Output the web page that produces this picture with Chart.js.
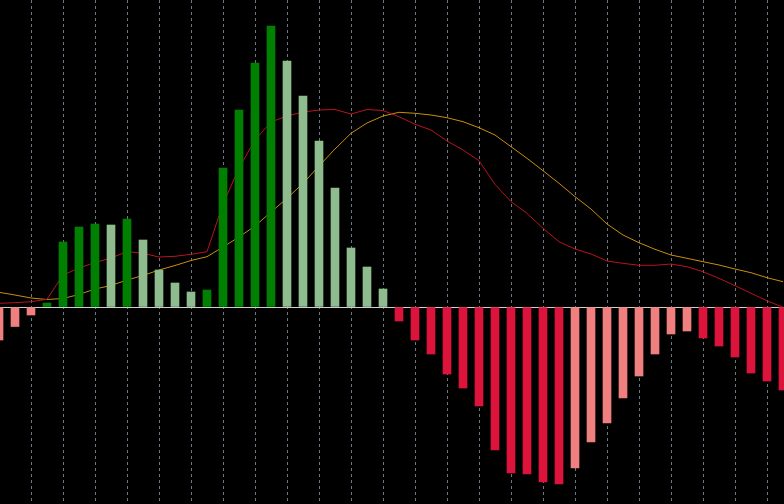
<!DOCTYPE html>
<html>
<head>
<meta charset="utf-8">
<script src="https://cdn.jsdelivr.net/npm/chart.js@4"></script>
<style>
  html, body { margin: 0; padding: 0; background: #000; }
  #wrap { width: 784px; height: 504px; position: relative; }
</style>
</head>
<body>
<div id="wrap"><canvas id="myChart"></canvas></div>
<script>
// bar index (one per period)
var periods = [];
for (var i = 0; i < 50; i++) periods.push(i);

// dashed vertical grid every second period
var gridTicks = [2, 4, 6, 8, 10, 12, 14, 16, 18, 20, 22, 24, 26, 28, 30, 32, 34, 36, 38, 40, 42, 44, 46, 48];

// histogram
var histogram = [-33, -19.5, -8, 4, 65, 80, 83, 82, 88, 67,
  37, 24, 15, 17, 139, 197, 244, 281, 246, 211,
  166, 119, 59, 40, 18, -14, -33, -47, -67, -81,
  -99, -143, -166, -167, -175, -177, -161, -135, -116, -91,
  -69, -47, -27, -24, -31, -39, -50, -66, -74, -83];

// main line (red)
var macdLine = [3.7, 4.3, 5.3, 7.7, 32, 39, 44.5, 49, 55.5, 53.7,
  50, 50.7, 52.7, 55.3, 103, 139, 167, 185, 191, 195,
  197, 197.5, 193, 197.5, 196.5, 190.3, 182.7, 177, 166, 157,
  146.3, 122.7, 105.3, 93.7, 78.7, 65.3, 58, 53, 46, 43.7,
  41.7, 41.7, 43, 40.3, 35.3, 28.7, 21.3, 13.7, 6.3, -0.3];

// signal line (orange)
var signalLine = [14.7, 12, 9, 7.5, 8.5, 12.5, 18, 21.5, 27, 31.5,
  37, 41.5, 46.5, 50.3, 60, 70, 81, 95, 108.7, 123.7,
  141, 158, 173.7, 184, 191, 194.7, 193.7, 192, 189.3, 185.3,
  179.3, 172, 160.3, 148.7, 136.3, 123.7, 110.3, 98, 83, 72,
  64.3, 57.7, 52, 48.7, 45.3, 42, 38, 34.3, 29.3, 25.3];

function pts(arr) {
  return periods.map(function (p) { return { x: p, y: arr[p] }; });
}

function barColor(c) {
  var i = c.dataIndex;
  var v = histogram[i];
  var up = i === 0 ? true : v > histogram[i - 1];
  if (v >= 0) return up ? '#008000' : '#8fbc8f';
  return up ? '#f08080' : '#dc143c';
}

var ctx = document.getElementById("myChart");

var myChart = new Chart(ctx, {
  type: 'bar',
  data: {
    datasets: [{
      type: 'bar',
      data: pts(histogram),
      backgroundColor: barColor,
      borderWidth: 0,
      barThickness: 8,
      order: 0
    }, {
      type: 'line',
      data: pts(macdLine),
      borderColor: '#b8141e',
      borderWidth: 1,
      pointRadius: 0,
      tension: 0,
      order: 1
    }, {
      type: 'line',
      data: pts(signalLine),
      borderColor: '#c8900a',
      borderWidth: 1,
      pointRadius: 0,
      tension: 0,
      order: 2
    }]
  },
  options: {
    responsive: true,
    maintainAspectRatio: false,
    animation: false,
    layout: { padding: 0 },
    plugins: {
      legend: { display: false },
      tooltip: { enabled: false }
    },
    scales: {
      x: {
        type: 'linear',
        bounds: 'data',
        min: 0.0625,
        max: 49.0625,
        offset: false,
        afterBuildTicks: function (scale) {
          scale.ticks = gridTicks.map(function (v) { return { value: v }; });
        },
        ticks: { display: false },
        grid: { color: '#6a7785', lineWidth: 1, drawTicks: false, offset: false },
        border: { display: false, dash: [3, 3] }
      },
      y: {
        bounds: 'data',
        min: -197,
        max: 307,
        afterBuildTicks: function (scale) {
          scale.ticks = [{ value: 0 }];
        },
        ticks: { display: false },
        grid: { color: '#d0d0d0', lineWidth: 1, drawTicks: false },
        border: { display: false }
      }
    }
  }
});
</script>
</body>
</html>
